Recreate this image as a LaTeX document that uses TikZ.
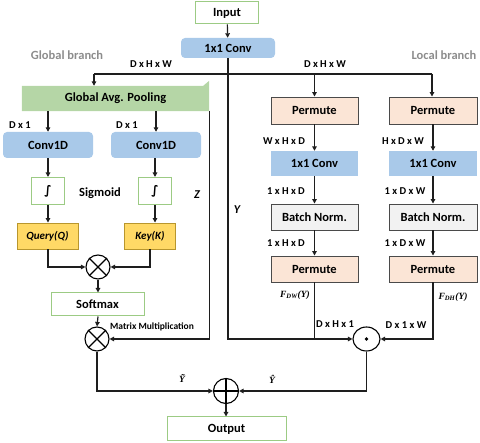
\documentclass[tikz,border=0pt]{standalone}
\usepackage{fontspec}
\setmainfont{Carlito}
\newfontfamily\djv{DejaVu Sans}
\newfontfamily\serifb{Liberation Serif}
\usetikzlibrary{arrows.meta,shapes.geometric,backgrounds}
\definecolor{gborder}{HTML}{9CCB84}
\definecolor{convblue}{HTML}{A9C9E9}
\definecolor{gapgreen}{HTML}{B5D6A6}
\definecolor{peach}{HTML}{FBE5D6}
\definecolor{lgray}{HTML}{F2F2F2}
\definecolor{darkb}{HTML}{4A4A4A}
\definecolor{yel}{HTML}{FFD966}
\definecolor{ybord}{HTML}{B8962E}
\definecolor{lc}{HTML}{1E1E1E}
\definecolor{graytxt}{HTML}{8C8C8C}
\tikzset{
  lbl/.style={font=\fontsize{12.5}{14}\selectfont\bfseries},
  box/.style={lbl, inner sep=0pt},
  gbox/.style={box, draw=gborder, line width=1pt, fill=white},
  bbox/.style={box, fill=convblue, rounded corners=4pt},
  sbox/.style={box, fill=convblue},
  pbox/.style={box, fill=peach, draw=darkb, line width=0.9pt},
  nbox/.style={box, fill=lgray, draw=darkb, line width=0.9pt},
  ybox/.style={box, fill=yel, draw=ybord, line width=0.9pt, font=\fontsize{11}{13}\selectfont\bfseries\itshape},
  dim/.style={font=\fontsize{10.5}{12}\selectfont\bfseries, inner sep=0pt},
  grayl/.style={font=\fontsize{12.5}{14}\selectfont\bfseries, text=graytxt, inner sep=0pt},
  mathl/.style={font=\fontsize{9.5}{11}\selectfont\serifb\bfseries\itshape, inner sep=0pt},
  conn/.style={line width=1.2pt, draw=lc},
  arr/.style={conn, -{Triangle[length=4.5pt,width=4.5pt]}},
  opn/.style={circle, draw=black, line width=1.1pt, minimum size=24pt, inner sep=0pt},
}
\begin{document}
\begin{tikzpicture}[x=1pt,y=-1pt]
\useasboundingbox (0,0) rectangle (480,443);
% top
\node[gbox, minimum width=63pt, minimum height=22pt] (input) at (227,13) {Input};
\node[bbox, minimum width=94pt, minimum height=20pt] (conv) at (228,48) {1x1 Conv};
% global branch
\node[box, minimum width=187pt, minimum height=25pt] (gap) at (115.5,98.5) {Global Avg. Pooling};
\begin{scope}[on background layer]
\fill[gapgreen] (gap.south west) -- (gap.north west) -- ([xshift=-6pt]gap.north east) -- ([yshift=5pt]gap.north east) -- (gap.south east) -- cycle;
\end{scope}
\node[bbox, minimum width=90pt, minimum height=26pt] (c1) at (48,145) {Conv1D};
\node[bbox, minimum width=90pt, minimum height=26pt] (c2) at (156,145) {Conv1D};
\node[gbox, minimum width=33pt, minimum height=27pt, font=\fontsize{12}{14}\selectfont\djv\bfseries] (s1) at (48,191) {∫};
\node[gbox, minimum width=33pt, minimum height=27pt, font=\fontsize{12}{14}\selectfont\djv\bfseries] (s2) at (155,191) {∫};
\node[ybox, minimum width=61pt, minimum height=26pt] (q) at (47.5,236) {Query(Q)};
\node[ybox, minimum width=51pt, minimum height=26pt] (k) at (150,236) {Key(K)};
\node[opn] (m1) at (98,267) {};
\node[gbox, minimum width=93pt, minimum height=23pt] (soft) at (97.5,304.5) {Softmax};
\node[opn] (m2) at (97,339) {};
% local branch
\node[pbox, minimum width=87pt, minimum height=27pt] (p1) at (314.5,110.5) {Permute};
\node[pbox, minimum width=88pt, minimum height=27pt] (p2) at (433,110.5) {Permute};
\node[sbox, minimum width=87pt, minimum height=25pt] (l1) at (314.5,163.5) {1x1 Conv};
\node[sbox, minimum width=88pt, minimum height=25pt] (l2) at (433,163.5) {1x1 Conv};
\node[nbox, minimum width=87pt, minimum height=26pt] (b1) at (314.5,217) {Batch Norm.};
\node[nbox, minimum width=88pt, minimum height=26pt] (b2) at (433,217) {Batch Norm.};
\node[pbox, minimum width=87pt, minimum height=26pt] (p3) at (314.5,269) {Permute};
\node[pbox, minimum width=88pt, minimum height=26pt] (p4) at (433,269) {Permute};
\node[ellipse, draw=black, line width=1.1pt, minimum width=27pt, minimum height=24pt, inner sep=0pt] (dot) at (366.5,339) {};
\fill (dot.center) circle (1.8pt);
\node[opn, minimum size=25pt] (op) at (226,391) {};
\node[gbox, minimum width=119pt, minimum height=24pt] (out) at (226.5,429) {Output};
% operator glyphs
\draw[line width=1.1pt] (m1.north east) -- (m1.south west) (m1.north west) -- (m1.south east);
\draw[line width=1.1pt] (m2.north east) -- (m2.south west) (m2.north west) -- (m2.south east);
\draw[line width=1.1pt] (op.north) -- (op.south) (op.west) -- (op.east);
% connectors
\coordinate (hl) at (94,74);
\coordinate (hr) at (432,74);
\draw[arr] (input) -- (conv);
\draw[conn] (hl) -- (hr);
\draw[arr] (hl) -- (hl |- gap.north);
\draw[arr] (p1.north |- hl) -- (p1.north);
\draw[arr] (hr) -- (hr |- p2.north);
\draw[arr] (c1.north |- gap.south) -- (c1.north);
\draw[arr] (c2.north |- gap.south) -- (c2.north);
\draw[arr] (c1) -- (s1);
\draw[arr] (c2.south -| s2) -- (s2);
\draw[arr] (s1) -- (s1 |- q.north);
\draw[arr] (s2.south) -- (s2.south |- k.north);
\draw[arr] (s1 |- q.south) |- (m1.west);
\draw[arr] (k.south) |- (m1.east);
\draw[arr] (m1) -- (m1 |- soft.north);
\draw[arr] (m1 |- soft.south) -- (m2.north);
\draw[arr] (gap.south east) |- (m2.east);
\draw[arr] (conv.south) |- (dot.west);
\draw[conn] (p3.south) -- (p3.south |- dot.west);
\draw[arr] (p4.south) |- (dot.east);
\draw[arr] (m2.south) |- (op.west);
\draw[arr] (dot.south) |- (op.east);
\draw[arr] (op) -- (op |- out.north);
\draw[arr] (p1) -- (l1);
\draw[arr] (p2) -- (l2);
\draw[arr] (l1) -- (b1);
\draw[arr] (l2) -- (b2);
\draw[arr] (b1) -- (p3);
\draw[arr] (b2) -- (p4);
% labels
\node[grayl] (gb) at (67,55) {Global branch};
\node[grayl] (lb) at (444,55) {Local branch};
\node[dim] (d1) at (151,64) {D x H x W};
\node[dim] (d2) at (325,64) {D x H x W};
\node[dim] (d3) at (20,125) {D x 1};
\node[dim] (d4) at (127,125) {D x 1};
\node[lbl, inner sep=0pt] (sg) at (100,193) {Sigmoid};
\node[inner sep=0pt, font=\fontsize{12}{14}\selectfont\bfseries\itshape] (zl) at (197,195) {Z};
\node[inner sep=0pt, font=\fontsize{12}{14}\selectfont\bfseries\itshape] (yl) at (237,210) {Y};
\node[font=\fontsize{9.5}{11}\selectfont\bfseries, inner sep=0pt] (mm) at (152,327) {Matrix Multiplication};
\node[dim] (d5) at (284,141) {W x H x D};
\node[dim] (d6) at (403,141) {H x D x W};
\node[dim] (d7) at (286,191) {1 x H x D};
\node[dim] (d8) at (405,191) {1 x D x W};
\node[dim] (d9) at (286,243) {1 x H x D};
\node[dim] (d10) at (405,243) {1 x D x W};
\node[mathl] (fdw) at (295,295) {F\textsubscript{DW}(Y)};
\node[mathl] (fdh) at (453,297) {F\textsubscript{DH}(Y)};
\node[dim] (d11) at (335,324) {D x H x 1};
\node[dim] (d12) at (406,325) {D x 1 x W};
\node[mathl] (yt) at (182,378) {\~{Y}};
\node[mathl] (yh) at (272,379) {\^{Y}};
\end{tikzpicture}
\end{document}
